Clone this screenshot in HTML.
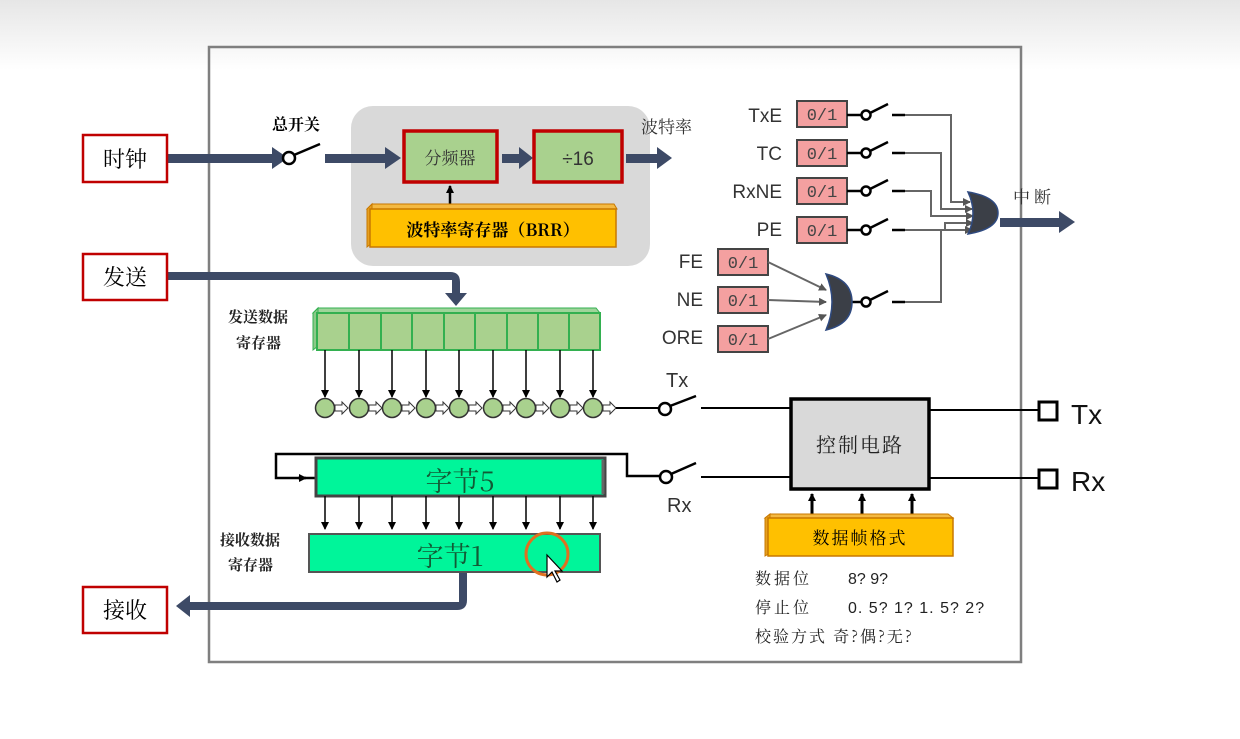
<!DOCTYPE html>
<html><head><meta charset="utf-8"><style>
html,body{margin:0;padding:0;width:1240px;height:739px;overflow:hidden;background:#fff}
text{font-family:"Liberation Sans","Noto Sans CJK SC",sans-serif}
text.cj{font-family:"Noto Serif CJK SC","Noto Sans CJK SC",serif}
text.mono{font-family:"Liberation Mono",monospace}
</style></head><body>
<svg width="1240" height="739" viewBox="0 0 1240 739" xmlns="http://www.w3.org/2000/svg">
<defs>
<linearGradient id="tg" x1="0" y1="0" x2="0" y2="1"><stop offset="0" stop-color="#e6e6e6"/><stop offset="1" stop-color="#ffffff"/></linearGradient>
<marker id="ah" markerWidth="8" markerHeight="8" refX="7" refY="4" orient="auto" markerUnits="userSpaceOnUse"><path d="M0,0 L8,4 L0,8 z" fill="#000"/></marker>
<marker id="gh" markerWidth="8" markerHeight="8" refX="7" refY="4" orient="auto" markerUnits="userSpaceOnUse"><path d="M0,0 L8,4 L0,8 z" fill="#555"/></marker>
</defs>
<rect x="0" y="0" width="1240" height="70" fill="url(#tg)"/>
<rect x="209" y="47" width="812" height="615" fill="none" stroke="#7f7f7f" stroke-width="2.5"/>

<rect x="351" y="106" width="299" height="160" rx="22" fill="#d9d9d9"/>
<g fill="#3d4a66">
<rect x="167" y="154" width="108" height="9"/><path d="M272,147 L288,158 L272,169z"/>
<rect x="325" y="154" width="63" height="9"/><path d="M385,147 L401,158 L385,169z"/>
<rect x="502" y="154" width="20" height="9"/><path d="M519,147 L533,158 L519,169z"/>
<rect x="626" y="154" width="34" height="9"/><path d="M657,147 L672,158 L657,169z"/>
<path d="M167,272 L450,272 Q460,272 460,282 L460,293 L467,293 L456,306 L445,293 L452,293 L452,280 L167,280z"/>
<path d="M459,572 L467,572 L467,600 Q467,610 457,610 L190,610 L190,617 L176,606 L190,595 L190,602 L459,602z"/>
<rect x="1000" y="218" width="62" height="9"/><path d="M1059,211 L1075,222 L1059,233z"/>
</g>
<circle cx="289" cy="158" r="6" fill="#fff" stroke="#000" stroke-width="2.5"/>
<line x1="294" y1="155" x2="320" y2="144" stroke="#000" stroke-width="2.5"/>
<text x="272" y="130" font-size="16" class="cj" font-weight="bold">总开关</text>

<rect x="404" y="131" width="93" height="51" fill="#a9d18e" stroke="#c00000" stroke-width="3.5"/>
<text x="450" y="164" font-size="17" text-anchor="middle" fill="#333" class="cj">分频器</text>
<rect x="534" y="131" width="88" height="51" fill="#a9d18e" stroke="#c00000" stroke-width="3.5"/>
<text x="578" y="165" font-size="19" text-anchor="middle" fill="#333">÷16</text>
<text x="641" y="133" font-size="17" class="cj" fill="#333">波特率</text>
<line x1="450" y1="205" x2="450" y2="186" stroke="#000" stroke-width="2.5" marker-end="url(#ah)"/>
<path d="M367,209 L372,204 L614,204 L617,209z" fill="#f4b942" stroke="#c87800"/>
<path d="M367,209 L372,204 L372,243 L367,247z" fill="#e6a020" stroke="#c87800"/>
<rect x="370" y="209" width="246" height="38" fill="#ffc000" stroke="#c87800" stroke-width="1.5"/>
<text x="493" y="236" font-size="17" text-anchor="middle" font-weight="bold" class="cj">波特率寄存器（BRR）</text>

<g font-size="22" text-anchor="middle">
<rect x="83" y="135" width="84" height="47" fill="#fff" stroke="#c00000" stroke-width="2.5"/><text class="cj" x="125" y="167">时钟</text>
<rect x="83" y="254" width="84" height="46" fill="#fff" stroke="#c00000" stroke-width="2.5"/><text class="cj" x="125" y="285">发送</text>
<rect x="83" y="587" width="84" height="46" fill="#fff" stroke="#c00000" stroke-width="2.5"/><text class="cj" x="125" y="618">接收</text>
</g>

<g font-size="15" font-weight="bold" fill="#222">
<text class="cj" x="228" y="322">发送数据</text><text class="cj" x="236" y="348">寄存器</text>
<text class="cj" x="220" y="545">接收数据</text><text class="cj" x="228" y="570">寄存器</text>
</g>
<path d="M313,313 L318,308 L596,308 L600,313z" fill="#9fd49a" stroke="#33b050"/>
<path d="M313,313 L318,308 L318,346 L313,350z" fill="#8cc888" stroke="#33b050"/>
<rect x="317" y="313" width="283" height="37" fill="#a9d18e" stroke="#33b050" stroke-width="2"/>
<g stroke="#33b050" stroke-width="2">
<line x1="349" y1="313" x2="349" y2="350"/><line x1="381" y1="313" x2="381" y2="350"/><line x1="412" y1="313" x2="412" y2="350"/><line x1="444" y1="313" x2="444" y2="350"/><line x1="475" y1="313" x2="475" y2="350"/><line x1="507" y1="313" x2="507" y2="350"/><line x1="538" y1="313" x2="538" y2="350"/><line x1="569" y1="313" x2="569" y2="350"/>
</g>
<g stroke="#000" stroke-width="1.5">
<line x1="325" y1="350" x2="325" y2="397" marker-end="url(#ah)"/><line x1="359" y1="350" x2="359" y2="397" marker-end="url(#ah)"/><line x1="392" y1="350" x2="392" y2="397" marker-end="url(#ah)"/><line x1="426" y1="350" x2="426" y2="397" marker-end="url(#ah)"/><line x1="459" y1="350" x2="459" y2="397" marker-end="url(#ah)"/><line x1="493" y1="350" x2="493" y2="397" marker-end="url(#ah)"/><line x1="526" y1="350" x2="526" y2="397" marker-end="url(#ah)"/><line x1="560" y1="350" x2="560" y2="397" marker-end="url(#ah)"/><line x1="593" y1="350" x2="593" y2="397" marker-end="url(#ah)"/>
</g>
<g fill="#a9d18e" stroke="#333" stroke-width="1.5">
<circle cx="325" cy="408" r="9.5"/><circle cx="359" cy="408" r="9.5"/><circle cx="392" cy="408" r="9.5"/><circle cx="426" cy="408" r="9.5"/><circle cx="459" cy="408" r="9.5"/><circle cx="493" cy="408" r="9.5"/><circle cx="526" cy="408" r="9.5"/><circle cx="560" cy="408" r="9.5"/><circle cx="593" cy="408" r="9.5"/>
</g>
<g fill="#fff" stroke="#333" stroke-width="1">
<path d="M335,405 L342,405 L342,402 L348,408 L342,414 L342,411 L335,411z"/><path d="M369,405 L376,405 L376,402 L382,408 L376,414 L376,411 L369,411z"/><path d="M402,405 L409,405 L409,402 L415,408 L409,414 L409,411 L402,411z"/><path d="M436,405 L443,405 L443,402 L449,408 L443,414 L443,411 L436,411z"/><path d="M469,405 L476,405 L476,402 L482,408 L476,414 L476,411 L469,411z"/><path d="M503,405 L510,405 L510,402 L516,408 L510,414 L510,411 L503,411z"/><path d="M536,405 L543,405 L543,402 L549,408 L543,414 L543,411 L536,411z"/><path d="M570,405 L577,405 L577,402 L583,408 L577,414 L577,411 L570,411z"/><path d="M603,405 L610,405 L610,402 L616,408 L610,414 L610,411 L603,411z"/>
</g>
<line x1="616" y1="408" x2="659" y2="408" stroke="#000" stroke-width="2"/>
<circle cx="665" cy="409" r="6" fill="#fff" stroke="#000" stroke-width="2.5"/>
<line x1="670" y1="406" x2="696" y2="396" stroke="#000" stroke-width="2.5"/>
<line x1="701" y1="408" x2="791" y2="408" stroke="#000" stroke-width="2"/>
<text x="666" y="387" font-size="20" fill="#333">Tx</text>

<path d="M316,478 L276,478 L276,454 L627,454 L627,476 L660,476" fill="none" stroke="#000" stroke-width="2.5"/>
<line x1="298" y1="478" x2="306" y2="478" stroke="#000" stroke-width="2.5" marker-end="url(#ah)"/>
<rect x="316" y="458" width="289" height="38" fill="#00f59a" stroke="#444" stroke-width="3"/>
<line x1="603" y1="460" x2="603" y2="494" stroke="#666" stroke-width="3"/>
<text x="460" y="491" font-size="27" text-anchor="middle" fill="#125a35" class="cj">字节5</text>
<circle cx="666" cy="477" r="6" fill="#fff" stroke="#000" stroke-width="2.5"/>
<line x1="671" y1="474" x2="696" y2="463" stroke="#000" stroke-width="2.5"/>
<line x1="701" y1="477" x2="791" y2="477" stroke="#000" stroke-width="2"/>
<text x="667" y="512" font-size="20" fill="#333">Rx</text>
<g stroke="#000" stroke-width="1.5">
<line x1="325" y1="496" x2="325" y2="529" marker-end="url(#ah)"/><line x1="359" y1="496" x2="359" y2="529" marker-end="url(#ah)"/><line x1="392" y1="496" x2="392" y2="529" marker-end="url(#ah)"/><line x1="426" y1="496" x2="426" y2="529" marker-end="url(#ah)"/><line x1="459" y1="496" x2="459" y2="529" marker-end="url(#ah)"/><line x1="493" y1="496" x2="493" y2="529" marker-end="url(#ah)"/><line x1="526" y1="496" x2="526" y2="529" marker-end="url(#ah)"/><line x1="560" y1="496" x2="560" y2="529" marker-end="url(#ah)"/><line x1="593" y1="496" x2="593" y2="529" marker-end="url(#ah)"/>
</g>
<rect x="309" y="534" width="291" height="38" fill="#00f59a" stroke="#555" stroke-width="2"/>
<text x="450" y="566" font-size="27" text-anchor="middle" fill="#125a35" class="cj">字节1</text>
<circle cx="547" cy="554" r="21" fill="none" stroke="#e07020" stroke-width="3"/>
<path d="M547,555 L547,577 L552,572 L557,582 L560,580 L555,571 L562,571z" fill="#fff" stroke="#000" stroke-width="1.2"/>

<rect x="791" y="399" width="138" height="90" fill="#d9d9d9" stroke="#000" stroke-width="3.5"/>
<text x="860" y="452" font-size="20" text-anchor="middle" class="cj" fill="#222" letter-spacing="2">控制电路</text>
<line x1="929" y1="410" x2="1038" y2="410" stroke="#000" stroke-width="2"/>
<line x1="929" y1="478" x2="1038" y2="478" stroke="#000" stroke-width="2"/>
<rect x="1039" y="402" width="18" height="18" fill="#fff" stroke="#000" stroke-width="3"/>
<rect x="1039" y="470" width="18" height="18" fill="#fff" stroke="#000" stroke-width="3"/>
<text x="1071" y="424" font-size="28" fill="#111">Tx</text>
<text x="1071" y="491" font-size="28" fill="#111">Rx</text>
<g stroke="#000" stroke-width="3">
<line x1="812" y1="515" x2="812" y2="494" marker-end="url(#ah)"/><line x1="862" y1="515" x2="862" y2="494" marker-end="url(#ah)"/><line x1="912" y1="515" x2="912" y2="494" marker-end="url(#ah)"/>
</g>
<path d="M765,518 L770,514 L948,514 L953,518z" fill="#f4b942" stroke="#c87800"/>
<path d="M765,518 L770,514 L770,553 L765,556z" fill="#e6a020" stroke="#c87800"/>
<rect x="768" y="518" width="185" height="38" fill="#ffc000" stroke="#c87800" stroke-width="1.5"/>
<text x="860" y="544" font-size="17" text-anchor="middle" class="cj" letter-spacing="2">数据帧格式</text>
<g font-size="16" fill="#222">
<text class="cj" x="755" y="584" letter-spacing="3">数据位</text><text x="848" y="584">8? 9?</text>
<text class="cj" x="755" y="613" letter-spacing="3">停止位</text><text x="848" y="613" letter-spacing="1">0. 5? 1? 1. 5? 2?</text>
<text class="cj" x="755" y="642" letter-spacing="2">校验方式 奇?偶?无?</text>
</g>

<g font-size="19" fill="#333" text-anchor="end">
<text x="782" y="122">TxE</text><text x="782" y="160">TC</text><text x="782" y="198">RxNE</text><text x="782" y="236">PE</text>
<text x="703" y="268">FE</text><text x="703" y="306">NE</text><text x="703" y="344">ORE</text>
</g>
<g fill="#f4a0a0" stroke="#444" stroke-width="2">
<rect x="797" y="101" width="50" height="26"/><rect x="797" y="140" width="50" height="26"/><rect x="797" y="178" width="50" height="26"/><rect x="797" y="217" width="50" height="26"/>
<rect x="718" y="249" width="50" height="26"/><rect x="718" y="287" width="50" height="26"/><rect x="718" y="326" width="50" height="26"/>
</g>
<g font-size="17" fill="#444" text-anchor="middle">
<text class="mono" x="822" y="120">0/1</text><text class="mono" x="822" y="159">0/1</text><text class="mono" x="822" y="197">0/1</text><text class="mono" x="822" y="236">0/1</text>
<text class="mono" x="743" y="268">0/1</text><text class="mono" x="743" y="306">0/1</text><text class="mono" x="743" y="345">0/1</text>
</g>
<g stroke="#000" stroke-width="2.5" fill="#fff">
<line x1="847" y1="115" x2="862" y2="115"/><circle cx="866" cy="115" r="4.5"/><line x1="870" y1="113" x2="888" y2="104"/><line x1="892" y1="115" x2="905" y2="115"/>
<line x1="847" y1="153" x2="862" y2="153"/><circle cx="866" cy="153" r="4.5"/><line x1="870" y1="151" x2="888" y2="142"/><line x1="892" y1="153" x2="905" y2="153"/>
<line x1="847" y1="191" x2="862" y2="191"/><circle cx="866" cy="191" r="4.5"/><line x1="870" y1="189" x2="888" y2="180"/><line x1="892" y1="191" x2="905" y2="191"/>
<line x1="847" y1="230" x2="862" y2="230"/><circle cx="866" cy="230" r="4.5"/><line x1="870" y1="228" x2="888" y2="219"/><line x1="892" y1="230" x2="905" y2="230"/>
<line x1="848" y1="302" x2="862" y2="302"/><circle cx="866" cy="302" r="4.5"/><line x1="870" y1="300" x2="888" y2="291"/><line x1="892" y1="302" x2="905" y2="302"/>
</g>
<g fill="none" stroke="#666" stroke-width="2">
<path d="M905,115 L951,115 L951,202 L970,202" marker-end="url(#gh)"/>
<path d="M905,153 L941,153 L941,209 L972,209" marker-end="url(#gh)"/>
<path d="M905,191 L931,191 L931,216 L973,216" marker-end="url(#gh)"/>
<path d="M905,230 L945,230 L945,223 L973,223" marker-end="url(#gh)"/>
<path d="M905,302 L941,302 L941,230 L972,230" marker-end="url(#gh)"/>
<path d="M768,262 L826,290" marker-end="url(#gh)"/>
<path d="M768,300 L826,302" marker-end="url(#gh)"/>
<path d="M768,339 L826,315" marker-end="url(#gh)"/>
</g>
<path d="M968,192 Q998,197 998,213 Q998,229 968,234 Q978,213 968,192z" fill="#3b3f47" stroke="#2f4a80" stroke-width="1.5"/>
<path d="M826,274 Q852,280 852,302 Q852,324 826,330 Q838,302 826,274z" fill="#3b3f47" stroke="#2f4a80" stroke-width="1.5"/>
<text x="1013" y="203" font-size="17" class="cj" fill="#333" letter-spacing="4">中断</text>
</svg>
</body></html>
